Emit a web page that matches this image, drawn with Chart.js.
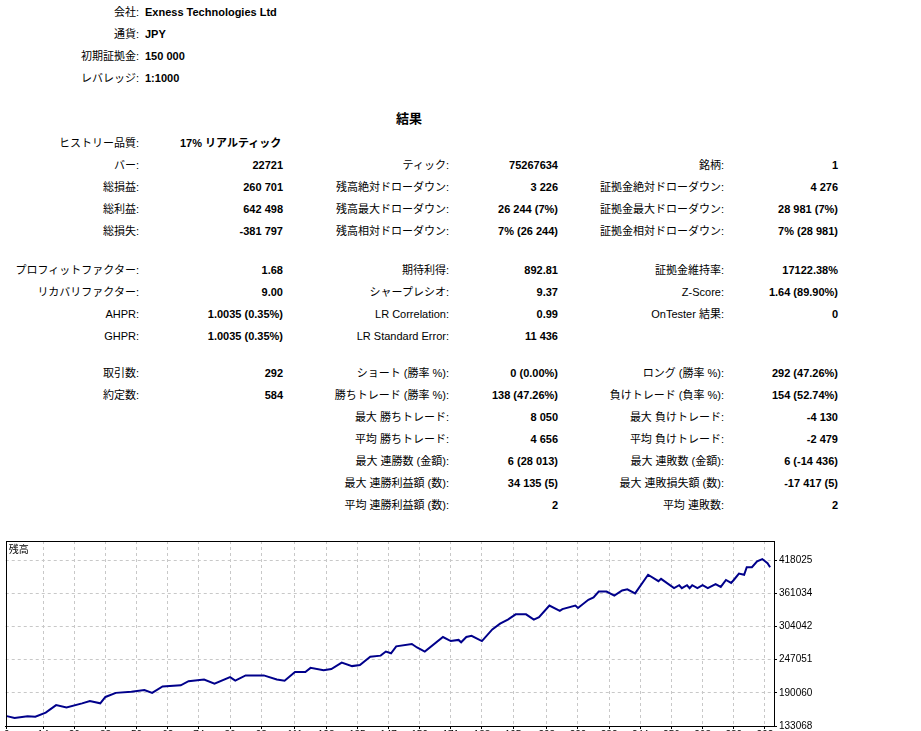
<!DOCTYPE html>
<html><head><meta charset="utf-8">
<script src="https://cdn.jsdelivr.net/npm/chart.js@4"></script>
<style>
body{margin:0;background:#fff;font-family:"Liberation Sans","Noto Sans CJK JP",sans-serif;font-size:11px;color:#000;}
.t{position:absolute;white-space:nowrap;line-height:13px;}
.b{font-weight:bold;}
</style></head><body>
<div id="txt"></div>
<div style="position:absolute;left:4px;top:533px;width:820px;height:208px;"><canvas id="c"></canvas></div>
<script>
const headLabels=["会社:","通貨:","初期証拠金:","レバレッジ:"];
const headValues=["Exness Technologies Ltd","JPY","150 000","1:1000"];
const col1Labels=["ヒストリー品質:","バー:","総損益:","総利益:","総損失:","","プロフィットファクター:","リカバリファクター:","AHPR:","GHPR:","","取引数:","約定数:"];
const col1Values=["17% リアルティック","22721","260 701","642 498","-381 797","","1.68","9.00","1.0035 (0.35%)","1.0035 (0.35%)","","292","584"];
const col2Labels=["","ティック:","残高絶対ドローダウン:","残高最大ドローダウン:","残高相対ドローダウン:","","期待利得:","シャープレシオ:","LR Correlation:","LR Standard Error:","","ショート (勝率 %):","勝ちトレード (勝率 %):","最大 勝ちトレード:","平均 勝ちトレード:","最大 連勝数 (金額):","最大 連勝利益額 (数):","平均 連勝利益額 (数):"];
const col2Values=["","75267634","3 226","26 244 (7%)","7% (26 244)","","892.81","9.37","0.99","11 436","","0 (0.00%)","138 (47.26%)","8 050","4 656","6 (28 013)","34 135 (5)","2"];
const col3Labels=["","銘柄:","証拠金絶対ドローダウン:","証拠金最大ドローダウン:","証拠金相対ドローダウン:","","証拠金維持率:","Z-Score:","OnTester 結果:","","","ロング (勝率 %):","負けトレード (負率 %):","最大 負けトレード:","平均 負けトレード:","最大 連敗数 (金額):","最大 連敗損失額 (数):","平均 連敗数:"];
const col3Values=["","1","4 276","28 981 (7%)","7% (28 981)","","17122.38%","1.64 (89.90%)","0","","","292 (47.26%)","154 (52.74%)","-4 130","-2 479","6 (-14 436)","-17 417 (5)","2"];
const xTicks=[0,14,26,38,50,62,74,86,98,111,123,135,147,159,171,183,195,208,220,232,244,256,268,280,292];
const yTicks=[133068,190060,247051,304042,361034,418025];
const trades=[0,3,8,11,15,19,23,29,32,36,38,42,48,53,56,60,67,70,76,80,86,88,92,99,104,107,111,115,117,122,125,129,133,136,140,144,146,148,150,156,158,161,168,171,174,175,177,179,183,187,190,193,196,200,203,205,209,213,214,219,220,224,226,228,231,234,237,239,242,247,251,252,257,259,260,262,263,264,266,268,270,273,275,277,279,280,282,284,285,287,289,291,293,294];
const balance=[150000,147000,150000,149000,156000,169000,165000,172000,176000,172000,183000,190000,192000,195000,190000,201000,203000,210000,213000,206000,217000,211000,220000,220000,213000,211000,226000,226000,233000,229000,231000,242000,236000,238000,252000,254000,261000,258000,270000,274000,268000,261000,286000,279000,281000,277000,286000,288000,279000,299000,309000,316000,325000,325000,316000,320000,340000,331000,334000,340000,336000,350000,354000,364000,364000,357000,366000,368000,361000,393000,382000,386000,370000,375000,370000,375000,370000,375000,370000,375000,370000,377000,372000,384000,379000,384000,395000,393000,406000,406000,416000,420000,413000,406000];

const txt=document.getElementById('txt');
function put(s,x,y,right,bold){if(!s)return;const d=document.createElement('div');d.className='t'+(bold?' b':'');d.textContent=s;
 if(right){d.style.right=(921-x)+'px';d.style.textAlign='right';}else d.style.left=x+'px';d.style.top=(y-6)+'px';txt.appendChild(d);}
headLabels.forEach((s,i)=>{put(s,139,12+22*i,true,false);put(headValues[i],145,12+22*i,false,true);});
const r=document.createElement('div');r.className='t b';r.style.left='396px';r.style.top='112px';r.style.fontSize='13px';r.textContent='結果';txt.appendChild(r);
const rowY=[143,165,187,209,231,0,270,292,314,336,0,373,395,417,439,461,483,505];
col1Labels.forEach((s,i)=>{put(s,139,rowY[i],true,false);put(col1Values[i],i==0?180:283,rowY[i],i!=0,true);});
col2Labels.forEach((s,i)=>{put(s,449,rowY[i],true,false);put(col2Values[i],558,rowY[i],true,true);});
col3Labels.forEach((s,i)=>{put(s,724,rowY[i],true,false);put(col3Values[i],838,rowY[i],true,true);});

const frame={id:'frame',afterDraw(ch){const a=ch.chartArea,c=ch.ctx;c.save();c.strokeStyle='#000';c.lineWidth=1;c.strokeRect(Math.round(a.left)+0.5,Math.round(a.top)+0.5,Math.round(a.right-a.left),Math.round(a.bottom-a.top));
 c.fillStyle='#000';c.font='10px "Noto Sans CJK JP"';c.textBaseline='top';c.fillText('残高',a.left+3,a.top+3);c.restore();}};
new Chart(document.getElementById('c'),{type:'line',
 data:{datasets:[{data:trades.map((t,i)=>({x:t,y:balance[i]})),borderColor:'#00008b',borderWidth:2,pointRadius:0,tension:0}]},
 options:{responsive:true,maintainAspectRatio:false,animation:false,layout:{padding:0},
  plugins:{legend:{display:false},tooltip:{enabled:false}},
  scales:{
   x:{type:'linear',min:-0.4,max:295.5,afterBuildTicks(ax){ax.ticks=xTicks.map(v=>({value:v}));},
     grid:{color:'#c8c8c8',tickColor:'#000',tickLength:3},border:{color:'#000',dash:[3,3]},
     ticks:{color:'#000',font:{size:10,family:'Liberation Sans'},padding:0,maxRotation:0,autoSkip:false,callback:v=>String(v)}},
   y:{position:'right',min:133068,max:451000,afterBuildTicks(ax){ax.ticks=yTicks.map(v=>({value:v}));},afterFit(ax){ax.width=50;},
     grid:{color:'#c8c8c8',tickColor:'#000',tickLength:3},border:{color:'#000',dash:[3,3]},
     ticks:{color:'#000',font:{size:10,family:'Liberation Sans'},padding:2,callback:v=>String(v)}}
  }},
 plugins:[frame]
});
</script></body></html>
